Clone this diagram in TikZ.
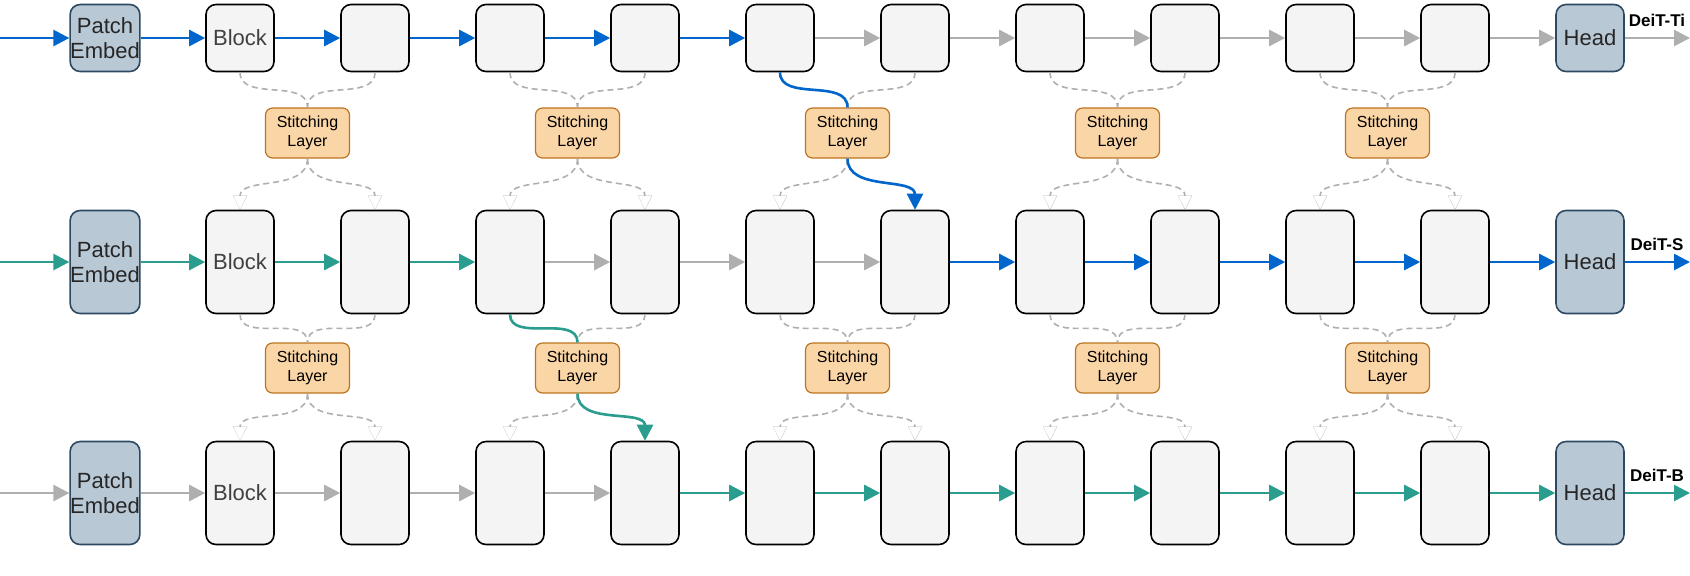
\documentclass[tikz,border=0pt]{standalone}
\usepackage{fontspec}
\setmainfont{Liberation Sans}
\usetikzlibrary{arrows.meta}
\definecolor{cblue}{HTML}{0066CC}
\definecolor{cteal}{HTML}{2A9D8F}
\definecolor{cgrey}{HTML}{AFAFAF}
\definecolor{blkfill}{HTML}{F4F4F4}
\definecolor{pefill}{HTML}{B9C8D5}
\definecolor{pedraw}{HTML}{2E4A63}
\definecolor{stfill}{HTML}{FAD5A6}
\definecolor{stdraw}{HTML}{BF7320}
\begin{document}
\begin{tikzpicture}[x=0.5pt,y=-0.5pt,
  blk/.style={draw=black,line width=0.8pt,fill=blkfill,rounded corners=5pt,minimum width=34pt,inner sep=0pt,font=\fontsize{11}{12.5}\selectfont,text=black!75},
  pe/.style={blk,draw=pedraw,fill=pefill,align=center,text=black!85},
  stl/.style={draw=stdraw,line width=0.6pt,fill=stfill,rounded corners=3.5pt,minimum width=42pt,minimum height=25pt,inner sep=0pt,align=center,font=\fontsize{8}{9.5}\selectfont},
  fl/.style={line width=1.3pt,-{Triangle[length=8pt,width=8pt]}},
  stdash/.style={cgrey,line width=0.8pt,dash pattern=on 3pt off 2pt},
  stdasharr/.style={stdash,-{Triangle[length=7pt,width=7pt,fill=cgrey,line width=0.1pt,open=false]}},
  tag/.style={font=\bfseries\fontsize{8.5}{9}\selectfont,anchor=south}]
  \useasboundingbox (0,0) rectangle (1690,575);

  % three rows of blocks
  \foreach \r/\y/\h in {1/38/33.5pt,2/262/51.5pt,3/493/51.5pt}{
    \node[pe,minimum height=\h] (r\r p) at (105,\y) {Patch\\Embed};
    \foreach \k in {1,...,10}{
      \node[blk,minimum height=\h] (r\r c\k) at ({105+135*\k},\y) {};
    }
    \node[pe,minimum height=\h] (r\r h) at (1590,\y) {Head};
    \coordinate (r\r in) at (0,\y);
    \coordinate (r\r out) at (1690,\y);
  }
  \foreach \r in {1,2,3}{ \node[text=black!75,font=\fontsize{11}{12}\selectfont] at (r\r c1) {Block}; }

  % stitching layers
  \foreach \i/\a/\b in {1/1/2,2/3/4,3/5/6,4/7/8,5/9/10}{
    \node[stl] (s1\i) at ({105+135*(\a+\b)/2},133) {Stitching\\Layer};
    \node[stl] (s2\i) at ({105+135*(\a+\b)/2},368) {Stitching\\Layer};
  }

  % dashed stitching connections
  \foreach \i/\a/\b in {1/1/2,2/3/4,3/5/6,4/7/8,5/9/10}{
    \foreach \r/\n in {1/2,2/3}{
      \draw[stdash] (r\r c\a.south) to[out=-90,in=90] (s\r\i.north);
      \draw[stdash] (r\r c\b.south) to[out=-90,in=90] (s\r\i.north);
      \draw[stdasharr] (s\r\i.south) to[out=-90,in=90] (r\n c\a.north);
      \draw[stdasharr] (s\r\i.south) to[out=-90,in=90] (r\n c\b.north);
    }
  }

  % row 1
  \draw[fl,cblue] (r1in) -- (r1p);
  \draw[fl,cblue] (r1p) -- (r1c1);
  \foreach \k [count=\j from 2] in {1,...,4}{ \draw[fl,cblue] (r1c\k) -- (r1c\j); }
  \foreach \k [count=\j from 6] in {5,...,9}{ \draw[fl,cgrey] (r1c\k) -- (r1c\j); }
  \draw[fl,cgrey] (r1c10) -- (r1h);
  \draw[fl,cgrey] (r1h) -- (r1out);
  \draw[cblue,line width=1.3pt] (r1c5.south) to[out=-90,in=90] (s13.north);
  \draw[fl,cblue] (s13.south) to[out=-90,in=90] (r2c6.north);

  % row 2
  \draw[fl,cteal] (r2in) -- (r2p);
  \draw[fl,cteal] (r2p) -- (r2c1);
  \foreach \k [count=\j from 2] in {1,2}{ \draw[fl,cteal] (r2c\k) -- (r2c\j); }
  \foreach \k [count=\j from 4] in {3,...,5}{ \draw[fl,cgrey] (r2c\k) -- (r2c\j); }
  \foreach \k [count=\j from 7] in {6,...,9}{ \draw[fl,cblue] (r2c\k) -- (r2c\j); }
  \draw[fl,cblue] (r2c10) -- (r2h);
  \draw[fl,cblue] (r2h) -- (r2out);
  \draw[cteal,line width=1.3pt] (r2c3.south) to[out=-90,in=90] (s22.north);
  \draw[fl,cteal] (s22.south) to[out=-90,in=90] (r3c4.north);

  % row 3
  \draw[fl,cgrey] (r3in) -- (r3p);
  \draw[fl,cgrey] (r3p) -- (r3c1);
  \foreach \k [count=\j from 2] in {1,...,3}{ \draw[fl,cgrey] (r3c\k) -- (r3c\j); }
  \foreach \k [count=\j from 5] in {4,...,9}{ \draw[fl,cteal] (r3c\k) -- (r3c\j); }
  \draw[fl,cteal] (r3c10) -- (r3h);
  \draw[fl,cteal] (r3h) -- (r3out);

  \node[tag] at (1657,34) {DeiT-Ti};
  \node[tag] at (1657,258) {DeiT-S};
  \node[tag] at (1657,489) {DeiT-B};
\end{tikzpicture}
\end{document}
